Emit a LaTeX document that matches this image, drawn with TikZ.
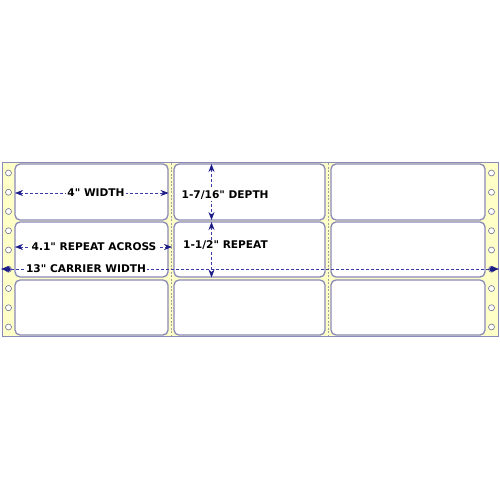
\documentclass[tikz,border=0pt]{standalone}
\usepackage{fontspec}
\setmainfont{DejaVu Sans}[Ligatures=TeXOff]
\usetikzlibrary{arrows.meta}
\definecolor{edgeblue}{HTML}{8A8AB8}
\definecolor{paper}{HTML}{FFFFC8}
\definecolor{navy}{HTML}{1C1C86}
\definecolor{dashblue}{HTML}{3A3AA8}
\definecolor{perfgrey}{HTML}{A0A0A0}
\tikzset{
  sheet/.style={fill=paper,draw=edgeblue,line width=0.8pt},
  labelbox/.style={draw=edgeblue,fill=white,line width=1.3pt,rounded corners=5pt,inner sep=0pt},
  hole/.style={circle,draw=edgeblue!80!black,fill=white,line width=0.6pt,minimum size=6pt,inner sep=0pt},
  perf/.style={draw=perfgrey,dash pattern=on 2pt off 1.5pt,line width=0.6pt},
  dimline/.style={draw=dashblue,dash pattern=on 3pt off 2pt,line width=0.6pt,
    {Stealth[length=8pt,width=6pt,fill=navy,color=navy]}-{Stealth[length=8pt,width=6pt,fill=navy,color=navy]}},
  dimtext/.style={font=\fontsize{10.6}{12}\selectfont\bfseries,fill=white,inner sep=1.5pt,text=black},
  dot/.style={circle,fill=navy,minimum size=4.5pt,inner sep=0pt},
}
\begin{document}
\begin{tikzpicture}[x=1pt,y=-1pt]
\useasboundingbox (0,0) rectangle (500,500);
% carrier sheet
\path[sheet] (2,162.5) rectangle (498,336.5);
% perforations
\draw[perf] (171,163) -- (171,336);
\draw[perf] (328,163) -- (328,336);
% labels
\foreach \r/\ya/\yb in {1/164/220,2/222/277,3/280/335}{
  \foreach \c/\xa/\xb in {1/15/168,2/174/325,3/331/485}{
    \node[labelbox,minimum width={\xb-\xa},minimum height={\yb-\ya}] (l\r\c) at ({(\xa+\xb)/2},{(\ya+\yb)/2}) {};
  }
}
% tractor holes
\foreach \k in {0,...,8}{
  \node[hole] (hl\k) at (8.5,{173+19.25*\k}) {};
  \node[hole] (hr\k) at (491.5,{173+19.25*\k}) {};
}
% 4" width
\coordinate (wa) at (15,193);
\coordinate (wb) at (168.5,193);
\draw[dimline] (wa) -- (wb);
\node[dimtext] (wt) at (96,193) {4" WIDTH};
% 4.1" repeat across
\coordinate (ra) at (15,247);
\coordinate (rb) at (172,247);
\draw[dimline] (ra) -- (rb);
\node[dimtext] (rt) at (94,247) {4.1" REPEAT ACROSS};
% 13" carrier width
\coordinate (ca) at (1,269);
\coordinate (cb) at (499,269);
\draw[dimline] (ca) -- (cb);
\node[dot] (cl) at (hl5) {};
\node[dot] (cr) at (hr5) {};
\node[dimtext] (ct) at (86,269) {13" CARRIER WIDTH};
% 1-7/16" depth
\coordinate (da) at (211.5,164);
\coordinate (db) at (211.5,220);
\draw[dimline] (da) -- (db);
\node[dimtext,anchor=west] (dt) at (180,195) {1-7/16" DEPTH};
% 1-1/2" repeat
\coordinate (pa) at (211.5,222);
\coordinate (pb) at (211.5,277.5);
\draw[dimline] (pa) -- (pb);
\node[dimtext,anchor=west] (pt) at (181.5,245.5) {1-1/2" REPEAT};
\end{tikzpicture}
\end{document}
